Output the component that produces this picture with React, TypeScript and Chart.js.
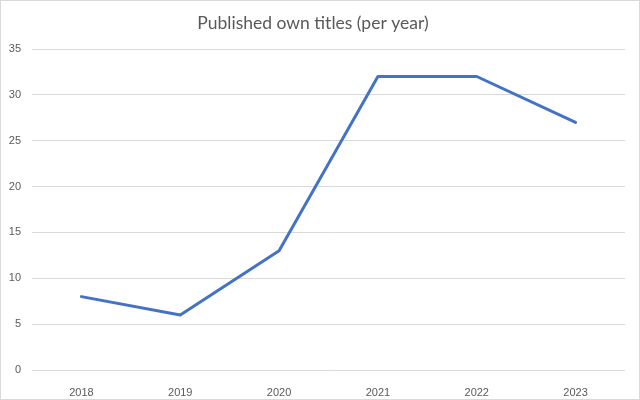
import React, { useEffect, useRef } from "react";
import { Chart, registerables } from "chart.js";

Chart.register(...registerables);

const categories = ["2018", "2019", "2020", "2021", "2022", "2023"];
const titlesPerYear = [8, 6, 13, 32, 32, 27];
const chartTitle = "Published own titles (per year)";

export default function App() {
  const ref = useRef<HTMLCanvasElement>(null);

  useEffect(() => {
    if (!ref.current) return;
    const chart = new Chart(ref.current, {
      type: "line",
      data: {
        labels: categories,
        datasets: [
          {
            data: titlesPerYear,
            borderColor: "#4472C4",
            backgroundColor: "#4472C4",
            borderWidth: 3,
            pointRadius: 0,
            tension: 0,
            borderJoinStyle: "round",
            borderCapStyle: "round",
          },
        ],
      },
      options: {
        animation: false,
        responsive: false,
        devicePixelRatio: 1,
        layout: { padding: { left: 0, right: 14, top: 0, bottom: 0 } },
        plugins: {
          legend: { display: false },
          tooltip: { enabled: false },
          title: {
            display: true,
            text: chartTitle,
            color: "#595959",
            font: { family: "Lato", size: 17.5, weight: "normal" },
            padding: { top: 12, bottom: 15 },
          },
        },
        scales: {
          x: {
            offset: true,
            grid: { display: false },
            border: { display: false },
            ticks: {
              color: "#595959",
              font: { family: "Liberation Sans", size: 11 },
              padding: 8,
              maxRotation: 0,
            },
            afterFit: (s: any) => {
              s.height = 29;
            },
          },
          y: {
            min: 0,
            max: 35,
            grid: { color: "#d9d9d9", lineWidth: 1, drawTicks: false },
            border: { display: false },
            ticks: {
              stepSize: 5,
              color: "#595959",
              font: { family: "Liberation Sans", size: 11 },
              padding: 11,
            },
            afterFit: (s: any) => {
              s.width = 31;
            },
          },
        },
      },
    });
    return () => chart.destroy();
  }, []);

  return (
    <div
      style={{
        position: "absolute",
        left: 0,
        top: 0,
        width: 640,
        height: 400,
        boxSizing: "border-box",
        border: "1px solid #d9d9d9",
        background: "#ffffff",
      }}
    >
      <canvas ref={ref} width={638} height={398} style={{ display: "block" }} />
    </div>
  );
}
